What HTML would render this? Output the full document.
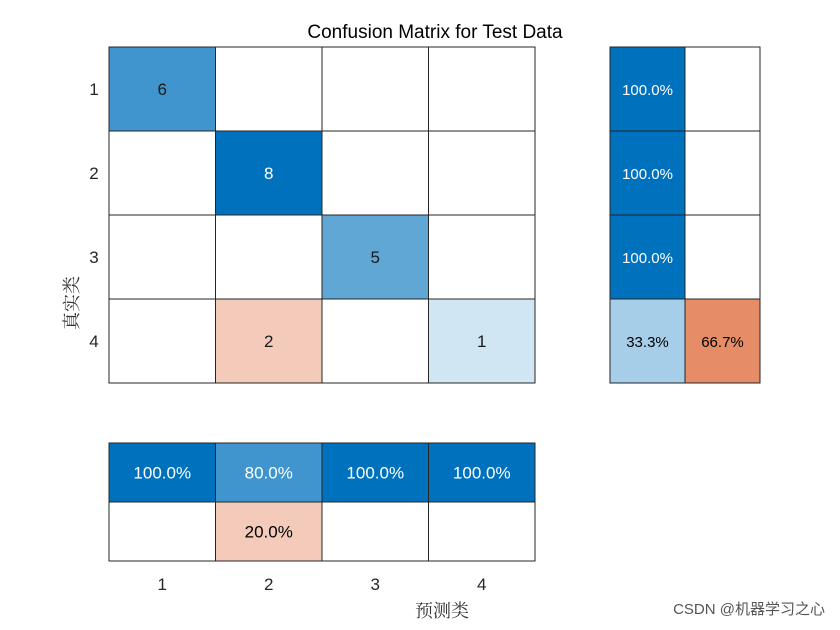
<!DOCTYPE html>
<html><head><meta charset="utf-8"><style>
body{margin:0;background:#fff}
svg{display:block;font-family:"Liberation Sans","Noto Sans CJK SC",sans-serif}
</style></head><body>
<svg id="c" width="840" height="630" viewBox="0 0 840 630">
<rect width="840" height="630" fill="#fff"/>
<text x="435" y="38" text-anchor="middle" font-size="19" fill="#000">Confusion Matrix for Test Data</text>
<text x="442" y="617" text-anchor="middle" font-size="18" fill="#333" font-family="Noto Serif CJK SC,serif">预测类</text>
<text transform="translate(78,303) rotate(-90)" text-anchor="middle" font-size="18" fill="#333" font-family="Noto Serif CJK SC,serif">真实类</text>
<text x="825" y="614" text-anchor="end" font-size="15" fill="#555">CSDN @机器学习之心</text>
</svg>
<script>
const classes=["1","2","3","4"];
const counts=[[6,0,0,0],[0,8,0,0],[0,0,5,0],[0,2,0,1]];
const rowPct=[[100.0,0],[100.0,0],[100.0,0],[33.3,66.7]];
const colPct=[[100.0,80.0,100.0,100.0],[0,20.0,0,0]];
const svg=document.getElementById('c');
const NS="http://www.w3.org/2000/svg";
function el(t,a){const e=document.createElementNS(NS,t);for(const k in a)e.setAttribute(k,a[k]);svg.appendChild(e);return e;}
const blue=[0,114,189],red=[217,83,25];
function blueC(t){t=Math.min(1,t);return 'rgb('+blue.map(v=>Math.round(255+(v-255)*t)).join(',')+')';}
function redC(t){t=Math.min(1,t);return 'rgb('+red.map(v=>Math.round(255+(v-255)*t)).join(',')+')';}
const gx=109,gy=47,cw=(535-109)/4,ch=84;
const maxC=Math.max(...counts.flat());
counts.forEach((row,i)=>row.forEach((v,j)=>{
  const diag=i===j, t=v/maxC;
  const fill=v===0?'#fff':(diag?blueC(Math.max(0.18,t)):redC(Math.max(0.3,t)));
  const r=el('rect',{x:gx+j*cw,y:gy+i*ch,width:cw,height:ch,fill:fill,stroke:'#262626','stroke-width':1});
  
  
  if(v){const tx=el('text',{x:gx+j*cw+cw/2,y:gy+i*ch+ch/2+6,'text-anchor':'middle','font-size':17,fill:(diag&&t>0.9)?'#fff':'#1a1a1a'});tx.textContent=v;
  
  }
}));
classes.forEach((c,i)=>{
  const a=el('text',{x:94,y:gy+i*ch+ch/2+6,'text-anchor':'middle','font-size':17,fill:'#262626'});a.textContent=c;
  
  
  const b=el('text',{x:gx+i*cw+cw/2,y:590,'text-anchor':'middle','font-size':17,fill:'#262626'});b.textContent=c;
  
  
});
const rx=610,rw=75;
rowPct.forEach((row,i)=>row.forEach((v,j)=>{
  const t=v/100;
  const fill=v===0?'#fff':(j===0?blueC(Math.max(0.35,t)):redC(Math.max(0.35,t)));
  const r=el('rect',{x:rx+j*rw,y:gy+i*ch,width:rw,height:ch,fill:fill,stroke:'#262626','stroke-width':1});
  
  
  if(v){const tx=el('text',{x:rx+j*rw+rw/2,y:gy+i*ch+ch/2+6,'text-anchor':'middle','font-size':15,fill:t>0.9?'#fff':'#000'});tx.textContent=v.toFixed(1)+'%';
  
  }
}));
const by=443,bh=59;
colPct.forEach((row,i)=>row.forEach((v,j)=>{
  const t=v/100;
  const fill=v===0?'#fff':(i===0?blueC(t>0.9?1:0.75):redC(0.3));
  const r=el('rect',{x:gx+j*cw,y:by+i*bh,width:cw,height:bh,fill:fill,stroke:'#262626','stroke-width':1});
  
  
  if(v){const tx=el('text',{x:gx+j*cw+cw/2,y:by+i*bh+bh/2+6,'text-anchor':'middle','font-size':17,fill:i===0?'#fff':'#000'});tx.textContent=v.toFixed(1)+'%';
  
  }
}));
</script>
</body></html>
